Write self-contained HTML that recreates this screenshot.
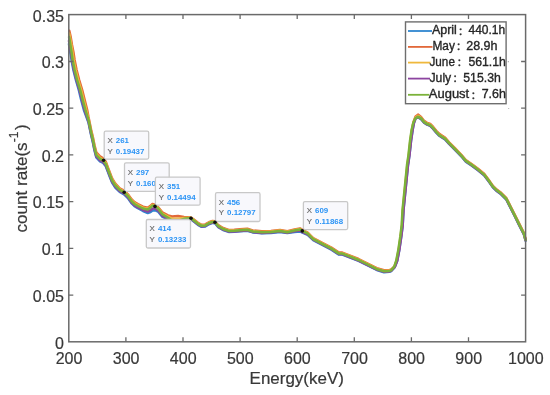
<!DOCTYPE html>
<html><head><meta charset="utf-8"><style>
html,body{margin:0;padding:0;background:#fff;width:550px;height:395px;overflow:hidden}
svg{display:block}
</style></head><body>
<svg width="550" height="395" viewBox="0 0 550 395">
<rect width="550" height="395" fill="#fff"/>
<g fill="none" stroke-width="2.5" stroke-linejoin="round" stroke-linecap="round">
<path stroke="#2f86d0" d="M69.0,44.0 L69.9,50.0 L71.0,56.0 L71.9,62.0 L73.4,70.0 L75.9,80.0 L78.8,90.0 L81.2,100.0 L83.9,110.0 L88.5,122.5 L91.0,134.5 L92.9,142.5 L94.5,150.5 L96.3,157.5 L100.0,161.4 L103.2,163.0 L105.8,166.3 L107.7,171.3 L109.6,176.3 L112.1,182.6 L115.3,187.5 L119.7,191.9 L124.1,194.3 L127.9,198.1 L131.7,203.4 L134.5,206.1 L137.9,208.2 L143.0,211.0 L147.8,213.0 L150.5,212.1 L152.5,210.5 L155.0,210.2 L158.0,211.5 L162.3,216.6 L168.0,219.7 L172.0,222.2 L178.0,222.4 L184.0,220.1 L190.9,219.3 L193.5,221.3 L198.0,224.8 L201.6,226.8 L205.3,226.4 L208.9,224.2 L212.5,222.9 L215.0,223.2 L218.3,227.2 L223.1,230.0 L228.7,231.9 L234.3,231.8 L240.0,231.3 L247.3,230.7 L252.7,232.4 L261.8,233.2 L270.9,232.9 L280.0,231.9 L287.3,233.1 L294.5,231.9 L300.0,231.4 L302.4,232.7 L307.7,234.8 L313.2,240.1 L322.3,244.8 L331.4,249.6 L338.6,254.4 L342.3,254.6 L349.5,257.4 L358.6,260.9 L367.7,265.4 L376.8,270.0 L384.0,272.2 L389.5,271.8 L391.1,271.1 L394.8,267.1 L397.2,260.7 L399.2,250.6 L401.3,236.4 L402.7,225.0 L403.5,210.0 L405.0,195.0 L406.5,180.0 L408.0,165.0 L409.4,155.6 L411.0,141.0 L412.6,130.0 L413.9,123.0 L415.5,118.5 L418.0,117.1 L421.1,119.1 L424.1,122.8 L427.1,124.7 L430.2,125.9 L433.2,128.9 L436.3,132.7 L439.3,135.8 L442.3,137.7 L445.0,139.3 L449.1,143.9 L455.2,150.0 L461.3,156.3 L465.8,161.6 L471.9,165.7 L478.0,170.3 L484.1,175.3 L488.6,181.2 L492.9,187.4 L497.0,191.3 L501.1,194.3 L506.4,199.7 L510.2,207.2 L514.8,216.3 L519.3,225.4 L523.9,234.5 L525.6,240.7"/>
<path stroke="#e2683a" d="M69.3,30.8 L70.5,36.0 L72.0,45.0 L73.4,52.0 L74.6,60.0 L76.6,70.0 L79.2,80.0 L82.2,90.0 L84.7,100.0 L87.2,110.0 L88.5,117.1 L91.0,129.2 L92.9,137.3 L94.5,145.3 L96.3,152.4 L100.0,156.4 L103.2,158.3 L105.8,161.7 L107.7,166.9 L109.6,172.0 L112.1,178.5 L115.3,183.7 L119.7,188.4 L124.1,190.7 L127.9,194.3 L131.7,199.5 L134.5,202.2 L137.9,204.2 L143.0,206.7 L147.8,207.8 L150.5,205.8 L152.5,203.9 L155.0,204.6 L158.0,207.0 L162.3,212.4 L168.0,215.4 L172.0,216.5 L178.0,216.0 L184.0,217.1 L190.9,217.4 L193.5,219.3 L198.0,222.8 L201.6,224.8 L205.3,224.4 L208.9,222.2 L212.5,220.9 L215.0,221.2 L218.3,225.2 L223.1,228.0 L228.7,229.9 L234.3,229.8 L240.0,229.3 L247.3,228.8 L252.7,230.5 L261.8,231.3 L270.9,231.0 L280.0,230.0 L287.3,231.2 L294.5,229.5 L300.0,228.4 L302.4,229.9 L307.7,232.6 L313.2,238.1 L322.3,242.8 L331.4,247.6 L338.6,252.4 L342.3,252.6 L349.5,255.4 L358.6,259.0 L367.7,263.5 L376.8,268.1 L384.0,270.3 L389.5,269.9 L391.1,269.6 L394.5,266.5 L396.8,260.7 L398.8,250.6 L400.9,236.4 L402.3,225.0 L403.1,210.0 L404.6,195.0 L406.1,180.0 L407.6,165.0 L409.0,155.6 L410.6,141.0 L412.2,129.4 L413.6,121.8 L415.4,116.8 L418.0,114.6 L421.1,117.0 L424.1,120.9 L427.1,122.8 L430.2,124.0 L433.2,127.0 L436.3,130.8 L439.3,133.9 L442.3,135.9 L445.0,137.6 L449.1,142.4 L455.2,148.5 L461.3,154.8 L465.8,160.1 L471.9,164.2 L478.0,168.8 L484.1,173.8 L488.6,179.7 L492.9,185.9 L497.0,189.8 L501.1,192.8 L506.4,198.2 L510.2,205.7 L514.8,214.8 L519.3,223.9 L523.9,233.0 L525.6,239.2"/>
<path stroke="#efb83c" d="M69.2,33.5 L70.5,40.0 L72.0,49.0 L73.6,60.0 L75.6,70.0 L78.2,80.0 L81.2,90.0 L83.7,100.0 L86.3,110.0 L88.5,118.7 L91.0,130.7 L92.9,138.8 L94.5,146.8 L96.3,153.8 L100.0,157.8 L103.2,159.5 L105.8,162.9 L107.7,168.0 L109.6,173.1 L112.1,179.5 L115.3,184.6 L119.7,189.2 L124.1,191.6 L127.9,195.2 L131.7,200.5 L134.5,203.2 L137.9,205.2 L143.0,207.7 L147.8,208.8 L150.5,206.7 L152.5,204.9 L155.0,205.5 L158.0,207.8 L162.3,213.5 L168.0,216.7 L172.0,218.7 L178.0,218.8 L184.0,218.0 L190.9,217.8 L193.5,219.8 L198.0,223.4 L201.6,225.4 L205.3,225.0 L208.9,222.8 L212.5,221.5 L215.0,221.8 L218.3,225.8 L223.1,228.6 L228.7,230.5 L234.3,230.4 L240.0,229.9 L247.3,229.4 L252.7,231.1 L261.8,231.9 L270.9,231.6 L280.0,230.6 L287.3,231.8 L294.5,230.1 L300.0,229.0 L302.4,230.5 L307.7,233.2 L313.2,238.7 L322.3,243.4 L331.4,248.2 L338.6,253.0 L342.3,253.2 L349.5,255.9 L358.6,259.6 L367.7,264.1 L376.8,268.7 L384.0,270.9 L389.5,270.4 L391.1,270.0 L394.4,266.7 L396.5,260.7 L398.5,250.6 L400.6,236.4 L402.0,225.0 L402.8,210.0 L404.3,195.0 L405.8,180.0 L407.3,165.0 L408.7,155.6 L410.3,141.0 L411.9,129.7 L413.4,122.5 L415.4,117.7 L418.0,115.8 L421.1,117.8 L424.1,121.6 L427.1,123.5 L430.2,124.7 L433.2,127.7 L436.3,131.5 L439.3,134.6 L442.3,136.5 L445.0,138.2 L449.1,142.8 L455.2,148.9 L461.3,155.2 L465.8,160.5 L471.9,164.6 L478.0,169.2 L484.1,174.2 L488.6,180.1 L492.9,186.3 L497.0,190.2 L501.1,193.2 L506.4,198.6 L510.2,206.1 L514.8,215.2 L519.3,224.3 L523.9,233.4 L525.6,239.6"/>
<path stroke="#8c44a0" d="M69.0,41.0 L70.0,47.0 L71.2,54.0 L72.2,61.0 L73.9,70.0 L76.4,80.0 L79.4,90.0 L81.9,100.0 L84.6,110.0 L88.5,121.5 L91.0,133.5 L92.9,141.5 L94.5,149.5 L96.3,156.5 L100.0,160.4 L103.2,162.1 L105.8,165.3 L107.7,170.4 L109.6,175.4 L112.1,181.7 L115.3,186.7 L119.7,191.1 L124.1,193.5 L127.9,197.2 L131.7,202.6 L134.5,205.3 L137.9,207.3 L143.0,210.0 L147.8,211.6 L150.5,210.2 L152.5,208.5 L155.0,208.6 L158.0,210.3 L162.3,215.7 L168.0,218.9 L172.0,221.5 L178.0,221.9 L184.0,219.6 L190.9,218.8 L193.5,220.9 L198.0,224.4 L201.6,226.4 L205.3,226.0 L208.9,223.8 L212.5,222.5 L215.0,222.8 L218.3,226.8 L223.1,229.6 L228.7,231.5 L234.3,231.4 L240.0,230.9 L247.3,230.4 L252.7,232.1 L261.8,232.9 L270.9,232.6 L280.0,231.5 L287.3,232.7 L294.5,231.3 L300.0,230.6 L302.4,232.0 L307.7,234.3 L313.2,239.7 L322.3,244.4 L331.4,249.2 L338.6,254.0 L342.3,254.2 L349.5,257.0 L358.6,260.6 L367.7,265.1 L376.8,269.6 L384.0,271.8 L389.5,271.4 L391.1,270.8 L394.8,267.0 L397.2,260.7 L399.2,250.6 L401.3,236.4 L402.7,225.0 L403.5,210.0 L405.0,195.0 L406.5,180.0 L408.0,165.0 L409.4,155.6 L411.0,141.0 L412.6,130.0 L413.9,123.0 L415.5,118.5 L418.0,117.0 L421.1,118.8 L424.1,122.5 L427.1,124.4 L430.2,125.6 L433.2,128.6 L436.3,132.4 L439.3,135.5 L442.3,137.4 L445.0,139.0 L449.1,143.6 L455.2,149.7 L461.3,156.0 L465.8,161.3 L471.9,165.4 L478.0,170.0 L484.1,175.0 L488.6,180.9 L492.9,187.1 L497.0,191.0 L501.1,194.0 L506.4,199.4 L510.2,206.9 L514.8,216.0 L519.3,225.1 L523.9,234.2 L525.6,240.4"/>
<path stroke="#7bb23a" d="M69.1,37.0 L70.4,45.0 L71.5,52.0 L72.6,60.0 L74.6,70.0 L77.1,80.0 L80.2,90.0 L82.7,100.0 L85.4,110.0 L88.5,120.0 L91.0,132.0 L92.9,140.0 L94.5,148.0 L96.3,155.0 L100.0,158.9 L103.2,160.6 L105.8,163.9 L107.7,169.0 L109.6,174.0 L112.1,180.4 L115.3,185.4 L119.7,189.9 L124.1,192.3 L127.9,196.0 L131.7,201.3 L134.5,204.0 L137.9,206.0 L143.0,208.5 L147.8,209.6 L150.5,207.5 L152.5,205.6 L155.0,206.2 L158.0,208.5 L162.3,214.3 L168.0,217.8 L172.0,220.5 L178.0,221.0 L184.0,218.8 L190.9,218.1 L193.5,220.2 L198.0,223.8 L201.6,225.8 L205.3,225.4 L208.9,223.2 L212.5,221.9 L215.0,222.2 L218.3,226.2 L223.1,229.0 L228.7,230.9 L234.3,230.8 L240.0,230.3 L247.3,229.8 L252.7,231.5 L261.8,232.3 L270.9,232.0 L280.0,231.0 L287.3,232.2 L294.5,230.5 L300.0,229.4 L302.4,230.9 L307.7,233.6 L313.2,239.1 L322.3,243.8 L331.4,248.6 L338.6,253.4 L342.3,253.6 L349.5,256.4 L358.6,260.0 L367.7,264.5 L376.8,269.1 L384.0,271.3 L389.5,270.9 L391.1,270.4 L394.2,266.8 L396.2,260.7 L398.2,250.6 L400.3,236.4 L401.7,225.0 L402.5,210.0 L404.0,195.0 L405.5,180.0 L407.0,165.0 L408.4,155.6 L410.0,141.0 L411.6,130.0 L413.2,123.0 L415.3,118.5 L418.0,116.8 L421.1,118.4 L424.1,122.1 L427.1,124.0 L430.2,125.2 L433.2,128.2 L436.3,132.0 L439.3,135.1 L442.3,137.0 L445.0,138.6 L449.1,143.2 L455.2,149.3 L461.3,155.6 L465.8,160.9 L471.9,165.0 L478.0,169.6 L484.1,174.6 L488.6,180.5 L492.9,186.7 L497.0,190.6 L501.1,193.6 L506.4,199.0 L510.2,206.5 L514.8,215.6 L519.3,224.7 L523.9,233.8 L525.6,240.0"/>
</g>
<rect x="68.8" y="14.6" width="456.8" height="327.2" fill="none" stroke="#6a6a6a" stroke-width="1.5"/>
<path d="M125.9,341.8 v-4.5 M125.9,14.6 v4.5 M183.0,341.8 v-4.5 M183.0,14.6 v4.5 M240.1,341.8 v-4.5 M240.1,14.6 v4.5 M297.2,341.8 v-4.5 M297.2,14.6 v4.5 M354.3,341.8 v-4.5 M354.3,14.6 v4.5 M411.4,341.8 v-4.5 M411.4,14.6 v4.5 M468.5,341.8 v-4.5 M468.5,14.6 v4.5 M68.8,295.1 h4.5 M525.6,295.1 h-4.5 M68.8,248.4 h4.5 M525.6,248.4 h-4.5 M68.8,201.7 h4.5 M525.6,201.7 h-4.5 M68.8,154.9 h4.5 M525.6,154.9 h-4.5 M68.8,108.2 h4.5 M525.6,108.2 h-4.5 M68.8,61.5 h4.5 M525.6,61.5 h-4.5" stroke="#6a6a6a" stroke-width="1.3" fill="none"/>
<g font-family="Liberation Sans, Arial, sans-serif" stroke="#383838" stroke-width="0.2"><text x="69.00" y="363.60" font-size="16.00" fill="#383838" text-anchor="middle">200</text><text x="126.10" y="363.60" font-size="16.00" fill="#383838" text-anchor="middle">300</text><text x="183.20" y="363.60" font-size="16.00" fill="#383838" text-anchor="middle">400</text><text x="240.30" y="363.60" font-size="16.00" fill="#383838" text-anchor="middle">500</text><text x="297.40" y="363.60" font-size="16.00" fill="#383838" text-anchor="middle">600</text><text x="354.50" y="363.60" font-size="16.00" fill="#383838" text-anchor="middle">700</text><text x="411.60" y="363.60" font-size="16.00" fill="#383838" text-anchor="middle">800</text><text x="468.70" y="363.60" font-size="16.00" fill="#383838" text-anchor="middle">900</text><text x="525.80" y="363.60" font-size="16.00" fill="#383838" text-anchor="middle">1000</text><text x="64.00" y="348.60" font-size="16.00" fill="#383838" text-anchor="end">0</text><text x="64.00" y="301.89" font-size="16.00" fill="#383838" text-anchor="end">0.05</text><text x="64.00" y="255.17" font-size="16.00" fill="#383838" text-anchor="end">0.1</text><text x="64.00" y="208.46" font-size="16.00" fill="#383838" text-anchor="end">0.15</text><text x="64.00" y="161.74" font-size="16.00" fill="#383838" text-anchor="end">0.2</text><text x="64.00" y="115.03" font-size="16.00" fill="#383838" text-anchor="end">0.25</text><text x="64.00" y="68.31" font-size="16.00" fill="#383838" text-anchor="end">0.3</text><text x="64.00" y="21.60" font-size="16.00" fill="#383838" text-anchor="end">0.35</text><text x="249.60" y="383.80" font-size="16.80" fill="#383838" textLength="94.3" lengthAdjust="spacingAndGlyphs">Energy(keV)</text></g>
<text transform="translate(26.8,232.6) rotate(-90)" font-family="Liberation Sans, Arial, sans-serif" font-size="17.1" fill="#383838" stroke="#383838" stroke-width="0.2">count rate(s<tspan dy="-8.6" font-size="12">-1</tspan><tspan dy="8.6" dx="1.6">)</tspan></text>
<rect x="104.2" y="131.2" width="44.5" height="27.9" rx="1.5" fill="#f8f8fc" stroke="#c8c8c8" stroke-width="1.3"/>
<g font-family="Liberation Sans, Arial, sans-serif" font-size="7.9"><text x="107.5" y="143.0" fill="#666" stroke="#666" stroke-width="0.15">X</text><text x="115.8" y="143.0" fill="#2a93f5" font-weight="bold">261</text><text x="107.5" y="153.9" fill="#666" stroke="#666" stroke-width="0.15">Y</text><text x="115.8" y="153.9" fill="#2a93f5" font-weight="bold">0.19437</text></g>
<rect x="124.5" y="162.8" width="44.7" height="28.5" rx="1.5" fill="#f8f8fc" stroke="#c8c8c8" stroke-width="1.3"/>
<g font-family="Liberation Sans, Arial, sans-serif" font-size="7.9"><text x="127.8" y="174.6" fill="#666" stroke="#666" stroke-width="0.15">X</text><text x="136.1" y="174.6" fill="#2a93f5" font-weight="bold">297</text><text x="127.8" y="185.5" fill="#666" stroke="#666" stroke-width="0.15">Y</text><text x="136.1" y="185.5" fill="#2a93f5" font-weight="bold">0.160</text></g>
<rect x="155.4" y="177.2" width="44.7" height="28.0" rx="1.5" fill="#f8f8fc" stroke="#c8c8c8" stroke-width="1.3"/>
<g font-family="Liberation Sans, Arial, sans-serif" font-size="7.9"><text x="158.7" y="189.0" fill="#666" stroke="#666" stroke-width="0.15">X</text><text x="167.0" y="189.0" fill="#2a93f5" font-weight="bold">351</text><text x="158.7" y="199.9" fill="#666" stroke="#666" stroke-width="0.15">Y</text><text x="167.0" y="199.9" fill="#2a93f5" font-weight="bold">0.14494</text></g>
<rect x="146.3" y="219.5" width="44.2" height="28.5" rx="1.5" fill="#f8f8fc" stroke="#c8c8c8" stroke-width="1.3"/>
<g font-family="Liberation Sans, Arial, sans-serif" font-size="7.9"><text x="149.6" y="231.3" fill="#666" stroke="#666" stroke-width="0.15">X</text><text x="157.9" y="231.3" fill="#2a93f5" font-weight="bold">414</text><text x="149.6" y="242.2" fill="#666" stroke="#666" stroke-width="0.15">Y</text><text x="157.9" y="242.2" fill="#2a93f5" font-weight="bold">0.13233</text></g>
<rect x="215.5" y="192.7" width="44.5" height="28.8" rx="1.5" fill="#f8f8fc" stroke="#c8c8c8" stroke-width="1.3"/>
<g font-family="Liberation Sans, Arial, sans-serif" font-size="7.9"><text x="218.8" y="204.5" fill="#666" stroke="#666" stroke-width="0.15">X</text><text x="227.1" y="204.5" fill="#2a93f5" font-weight="bold">456</text><text x="218.8" y="215.4" fill="#666" stroke="#666" stroke-width="0.15">Y</text><text x="227.1" y="215.4" fill="#2a93f5" font-weight="bold">0.12797</text></g>
<rect x="303.4" y="201.6" width="44.3" height="28.0" rx="1.5" fill="#f8f8fc" stroke="#c8c8c8" stroke-width="1.3"/>
<g font-family="Liberation Sans, Arial, sans-serif" font-size="7.9"><text x="306.7" y="213.4" fill="#666" stroke="#666" stroke-width="0.15">X</text><text x="315.0" y="213.4" fill="#2a93f5" font-weight="bold">609</text><text x="306.7" y="224.3" fill="#666" stroke="#666" stroke-width="0.15">Y</text><text x="315.0" y="224.3" fill="#2a93f5" font-weight="bold">0.11868</text></g>
<circle cx="103.6" cy="160.2" r="1.8" fill="#111"/>
<circle cx="124.2" cy="192.3" r="1.8" fill="#111"/>
<circle cx="155.0" cy="206.4" r="1.8" fill="#111"/>
<circle cx="191.0" cy="218.2" r="1.8" fill="#111"/>
<circle cx="215.0" cy="222.2" r="1.8" fill="#111"/>
<circle cx="302.3" cy="230.9" r="1.8" fill="#111"/>
<circle cx="508.3" cy="61.7" r="0.6" fill="#999"/><circle cx="508.7" cy="108.5" r="0.6" fill="#aaa"/>
<rect x="405.5" y="21.9" width="100.6" height="81.8" fill="#fff" stroke="#6e6e6e" stroke-width="1.4"/>
<g font-family="Liberation Sans, Arial, sans-serif" stroke="#262626" stroke-width="0.35"><path d="M408.0,31.0 H432.0" stroke="#2f86d0" stroke-width="1.8"/><text x="431.90" y="34.20" font-size="12.60" fill="#262626" textLength="25.0" lengthAdjust="spacingAndGlyphs">April</text><text x="458.1" y="34.6" font-size="10.5" fill="#262626" font-family="Liberation Sans, 'Noto Sans CJK SC', sans-serif">：</text><text x="468.50" y="34.20" font-size="12.60" fill="#262626" textLength="36.7" lengthAdjust="spacingAndGlyphs">440.1h</text><path d="M408.0,46.9 H432.5" stroke="#e2683a" stroke-width="1.8"/><text x="432.40" y="49.90" font-size="12.60" fill="#262626" textLength="22.5" lengthAdjust="spacingAndGlyphs">May</text><text x="455.9" y="50.3" font-size="10.5" fill="#262626" font-family="Liberation Sans, 'Noto Sans CJK SC', sans-serif">：</text><text x="466.20" y="49.90" font-size="12.60" fill="#262626" textLength="31.3" lengthAdjust="spacingAndGlyphs">28.9h</text><path d="M408.0,62.6 H430.5" stroke="#efb83c" stroke-width="1.8"/><text x="429.50" y="65.50" font-size="12.60" fill="#262626" textLength="25.4" lengthAdjust="spacingAndGlyphs">June</text><text x="456.7" y="65.9" font-size="10.5" fill="#262626" font-family="Liberation Sans, 'Noto Sans CJK SC', sans-serif">：</text><text x="468.40" y="65.50" font-size="12.60" fill="#262626" textLength="37.5" lengthAdjust="spacingAndGlyphs">561.1h</text><path d="M408.0,78.6 H430.0" stroke="#8c44a0" stroke-width="1.8"/><text x="429.50" y="81.70" font-size="12.60" fill="#262626" textLength="21.7" lengthAdjust="spacingAndGlyphs">July</text><text x="452.6" y="82.1" font-size="10.5" fill="#262626" font-family="Liberation Sans, 'Noto Sans CJK SC', sans-serif">：</text><text x="463.30" y="81.70" font-size="12.60" fill="#262626" textLength="37.5" lengthAdjust="spacingAndGlyphs">515.3h</text><path d="M408.0,94.8 H429.4" stroke="#7bb23a" stroke-width="1.8"/><text x="428.80" y="98.20" font-size="12.60" fill="#262626" textLength="40.4" lengthAdjust="spacingAndGlyphs">August</text><text x="470.7" y="98.6" font-size="10.5" fill="#262626" font-family="Liberation Sans, 'Noto Sans CJK SC', sans-serif">：</text><text x="481.70" y="98.20" font-size="12.60" fill="#262626" textLength="24.2" lengthAdjust="spacingAndGlyphs">7.6h</text></g>
</svg>
</body></html>
